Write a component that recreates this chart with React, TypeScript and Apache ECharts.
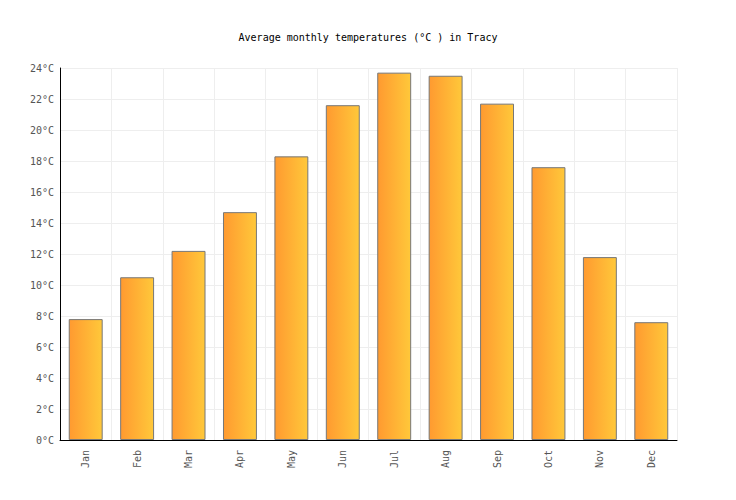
import * as echarts from 'echarts';
import { useEffect, useRef } from 'react';

const months = ['Jan', 'Feb', 'Mar', 'Apr', 'May', 'Jun', 'Jul', 'Aug', 'Sep', 'Oct', 'Nov', 'Dec'];
const temps = [7.8, 10.5, 12.2, 14.7, 18.3, 21.6, 23.7, 23.5, 21.7, 17.6, 11.8, 7.6];

const font = '"DejaVu Sans Mono", monospace';

export default function App() {
  const ref = useRef<HTMLDivElement>(null);

  useEffect(() => {
    if (!ref.current) return;
    const chart = echarts.init(ref.current, null, { renderer: 'svg' });
    chart.setOption({
      animation: false,
      title: {
        text: 'Average monthly temperatures (°C ) in Tracy',
        left: 'center',
        top: 27,
        textStyle: { fontFamily: font, fontSize: 10, fontWeight: 'normal', color: '#000' },
      },
      grid: { left: 60, right: 59, top: 68, bottom: 60 },
      xAxis: {
        type: 'category',
        data: months,
        axisLine: { lineStyle: { color: '#000', width: 1 } },
        axisTick: { show: false },
        splitLine: { show: true, lineStyle: { color: '#eee' } },
        axisLabel: { rotate: 90, color: '#555', fontFamily: font, fontSize: 10, margin: 10 },
      },
      yAxis: {
        type: 'value',
        min: 0,
        max: 24,
        interval: 2,
        axisLine: { show: true, lineStyle: { color: '#000', width: 1 } },
        axisTick: { show: false },
        splitLine: { lineStyle: { color: '#eee' } },
        axisLabel: { formatter: '{value}°C', color: '#555', fontFamily: font, fontSize: 10, margin: 6 },
      },
      series: [
        {
          type: 'bar',
          data: temps,
          barWidth: '66%',
          itemStyle: {
            color: new echarts.graphic.LinearGradient(0, 0, 1, 0, [
              { offset: 0, color: '#ff9a30' },
              { offset: 1, color: '#ffc83a' },
            ]),
            borderColor: '#777',
            borderWidth: 1,
          },
        },
      ],
    });
    return () => chart.dispose();
  }, []);

  return <div ref={ref} style={{ position: 'absolute', left: 0, top: 0, width: 736, height: 500 }} />;
}
